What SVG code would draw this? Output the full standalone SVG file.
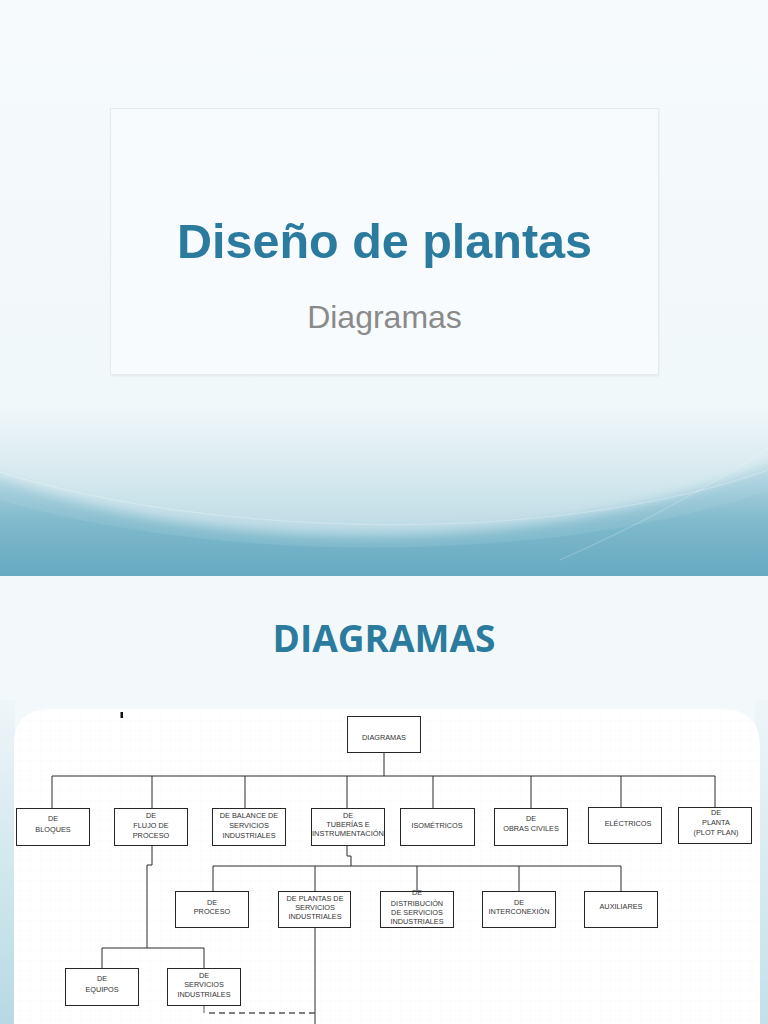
<svg xmlns="http://www.w3.org/2000/svg" width="768" height="1024" viewBox="0 0 768 1024">
<defs>
<linearGradient id="sky" x1="0" y1="0" x2="0" y2="1">
<stop offset="0" stop-color="#f6fafc"/>
<stop offset="0.7" stop-color="#f1f8fa"/>
<stop offset="0.82" stop-color="#d8eaf0"/>
<stop offset="0.92" stop-color="#bddbe5"/>
<stop offset="1" stop-color="#a5cedb"/>
</linearGradient>
<linearGradient id="wave1" x1="0" y1="0" x2="0" y2="1">
<stop offset="0" stop-color="#8cc1d2" stop-opacity="0.3"/>
<stop offset="0.45" stop-color="#7db8cb" stop-opacity="0.8"/>
<stop offset="1" stop-color="#6aadc3"/>
</linearGradient>
<linearGradient id="wave2" x1="0" y1="0" x2="0" y2="1">
<stop offset="0" stop-color="#6aaec4" stop-opacity="0.05"/>
<stop offset="1" stop-color="#5fa6be" stop-opacity="0.6"/>
</linearGradient>
<linearGradient id="leftstrip" x1="0" y1="0" x2="0" y2="1">
<stop offset="0" stop-color="#eef6f9"/>
<stop offset="1" stop-color="#b7d9e4"/>
</linearGradient>
<linearGradient id="rightstrip" x1="0" y1="0" x2="0" y2="1">
<stop offset="0" stop-color="#eef6f9"/>
<stop offset="1" stop-color="#c4e0ea"/>
</linearGradient>
<pattern id="grid" width="10" height="10" patternUnits="userSpaceOnUse">
<path d="M10 0H0V10" fill="none" stroke="#e4e8eb" stroke-width="0.6"/>
</pattern>
<filter id="shadow" x="-5%" y="-5%" width="110%" height="110%">
<feGaussianBlur stdDeviation="1.2"/>
</filter>
<filter id="soft" x="-5%" y="-20%" width="110%" height="140%">
<feGaussianBlur stdDeviation="6"/>
</filter>
</defs>
<style>
.box{fill:#ffffff;stroke:#262626;stroke-width:1}
.lbl{font-family:"Liberation Sans",Arial,sans-serif;font-size:7.3px;fill:#333333;text-anchor:middle}
.ln{fill:none;stroke:#2a2a2a;stroke-width:1}
.dash{fill:none;stroke:#555555;stroke-width:1.3;stroke-dasharray:6,4}
</style>

<!-- Slide 1 background -->
<rect x="0" y="0" width="768" height="576" fill="url(#sky)"/>
<path d="M-20,470 C200,560 560,560 790,455 L790,600 L-20,600 Z" fill="url(#wave1)" filter="url(#soft)"/>
<path d="M0,500 C220,565 560,565 768,490 L768,576 L0,576 Z" fill="url(#wave2)"/>
<path d="M0,472 C220,540 560,545 768,470" fill="none" stroke="#ffffff" stroke-opacity="0.25" stroke-width="1.2"/>
<path d="M560,560 C650,520 720,480 768,448" fill="none" stroke="#ffffff" stroke-opacity="0.2" stroke-width="1.2"/>
<rect x="0" y="576" width="768" height="30" fill="#f3f9fb"/>

<!-- Title card -->
<g id="title-card">
<rect x="111" y="110" width="548" height="266" fill="#cfd9de" opacity="0.5" filter="url(#shadow)"/>
<rect x="110.5" y="108.5" width="548" height="266" fill="#f8fbfd" stroke="#e4eaed" stroke-width="1"/>
<text x="384.5" y="258" font-family="'Liberation Sans',Arial,sans-serif" font-size="48.5" font-weight="bold" fill="#2b7b9e" text-anchor="middle">Diseño de plantas</text>
<text x="384.5" y="328" font-family="'Liberation Sans',Arial,sans-serif" font-size="32" fill="#8a8a8a" text-anchor="middle">Diagramas</text>
</g>

<!-- Slide 2 background -->
<rect x="0" y="576" width="768" height="448" fill="#f3f9fb"/>
<text x="384" y="652" font-family="'Open Sans',sans-serif" font-size="37" font-weight="bold" fill="#2b7b9e" text-anchor="middle" textLength="223" lengthAdjust="spacingAndGlyphs">DIAGRAMAS</text>
<rect x="0" y="700" width="15" height="324" fill="url(#leftstrip)"/>
<rect x="755" y="700" width="13" height="324" fill="url(#rightstrip)"/>
<path d="M14,1030 V745 Q14,709 50,709 H722 Q760,709 760,747 V1030 Z" fill="#ffffff"/>
<path d="M14,1030 V745 Q14,709 50,709 H722 Q760,709 760,747 V1030 Z" fill="url(#grid)" opacity="0.4"/>
<rect x="120.5" y="712" width="2.5" height="6" fill="#111111"/>

<!-- Connectors -->
<g id="connectors">
<path class="ln" d="M384,753 V776"/>
<path class="ln" d="M52,808 V776 H715 V807"/>
<path class="ln" d="M152,776 V808"/>
<path class="ln" d="M245,776 V808"/>
<path class="ln" d="M347,776 V808"/>
<path class="ln" d="M433,776 V808"/>
<path class="ln" d="M531,776 V808"/>
<path class="ln" d="M621,776 V807"/>
<path class="ln" d="M347,846 V856 H351 V866"/>
<path class="ln" d="M213,891 V866 H621 V891"/>
<path class="ln" d="M315,866 V891"/>
<path class="ln" d="M417,866 V891"/>
<path class="ln" d="M519,866 V891"/>
<path class="ln" d="M315,927 V1024"/>
<path class="ln" d="M152,846 V865 H147 V948"/>
<path class="ln" d="M102,968 V948 H204 V968"/>
<path d="M204,1006 V1013" fill="none" stroke="#555555" stroke-width="1"/>
<path class="dash" d="M209,1013 H315"/>
</g>

<!-- Nodes -->
<g id="n-diagramas">
<rect class="box" x="347.5" y="716.5" width="73" height="36"/>
<text class="lbl" x="384" y="740">DIAGRAMAS</text>
</g>
<g id="n-bloques">
<rect class="box" x="16.5" y="808.5" width="73" height="37"/>
<text class="lbl" x="53" y="821">DE</text>
<text class="lbl" x="53" y="831.5">BLOQUES</text>
</g>
<g id="n-flujo">
<rect class="box" x="114.5" y="808.5" width="73" height="37"/>
<text class="lbl" x="151" y="818">DE</text>
<text class="lbl" x="151" y="827.5">FLUJO DE</text>
<text class="lbl" x="151" y="838">PROCESO</text>
</g>
<g id="n-balance">
<rect class="box" x="212.5" y="808.5" width="73" height="37"/>
<text class="lbl" x="249" y="818">DE BALANCE DE</text>
<text class="lbl" x="249" y="827.5">SERVICIOS</text>
<text class="lbl" x="249" y="838">INDUSTRIALES</text>
</g>
<g id="n-tuberias">
<rect class="box" x="311.5" y="808.5" width="73" height="37"/>
<text class="lbl" x="348" y="818">DE</text>
<text class="lbl" x="348" y="827">TUBERÍAS E</text>
<text class="lbl" x="348" y="836" textLength="72" lengthAdjust="spacingAndGlyphs">INSTRUMENTACIÓN</text>
</g>
<g id="n-isometricos">
<rect class="box" x="400.5" y="808.5" width="74" height="37"/>
<text class="lbl" x="437" y="828">ISOMÉTRICOS</text>
</g>
<g id="n-obras">
<rect class="box" x="494.5" y="808.5" width="73" height="37"/>
<text class="lbl" x="531" y="821">DE</text>
<text class="lbl" x="531" y="831">OBRAS CIVILES</text>
</g>
<g id="n-electricos">
<rect class="box" x="588.5" y="807.5" width="73" height="36"/>
<text class="lbl" x="628" y="825.5">ELÉCTRICOS</text>
</g>
<g id="n-planta">
<rect class="box" x="678.5" y="807.5" width="73" height="36"/>
<text class="lbl" x="716" y="815">DE</text>
<text class="lbl" x="716" y="825">PLANTA</text>
<text class="lbl" x="716" y="835">(PLOT PLAN)</text>
</g>
<g id="n-proceso">
<rect class="box" x="175.5" y="891.5" width="73" height="36"/>
<text class="lbl" x="212" y="905">DE</text>
<text class="lbl" x="212" y="914">PROCESO</text>
</g>
<g id="n-plantas-serv">
<rect class="box" x="278.5" y="891.5" width="72" height="36"/>
<text class="lbl" x="315" y="901">DE PLANTAS DE</text>
<text class="lbl" x="315" y="910">SERVICIOS</text>
<text class="lbl" x="315" y="919">INDUSTRIALES</text>
</g>
<g id="n-distribucion">
<rect class="box" x="380.5" y="891.5" width="73" height="36"/>
<text class="lbl" x="417" y="895">DE</text>
<text class="lbl" x="417" y="906">DISTRIBUCIÓN</text>
<text class="lbl" x="417" y="915">DE SERVICIOS</text>
<text class="lbl" x="417" y="924">INDUSTRIALES</text>
</g>
<g id="n-interconexion">
<rect class="box" x="482.5" y="891.5" width="73" height="36"/>
<text class="lbl" x="519" y="904.5">DE</text>
<text class="lbl" x="519" y="914">INTERCONEXIÓN</text>
</g>
<g id="n-auxiliares">
<rect class="box" x="584.5" y="891.5" width="73" height="36"/>
<text class="lbl" x="621" y="909">AUXILIARES</text>
</g>
<g id="n-equipos">
<rect class="box" x="65.5" y="968.5" width="73" height="37"/>
<text class="lbl" x="102" y="981">DE</text>
<text class="lbl" x="102" y="992">EQUIPOS</text>
</g>
<g id="n-servicios">
<rect class="box" x="167.5" y="968.5" width="73" height="37"/>
<text class="lbl" x="204" y="977.5">DE</text>
<text class="lbl" x="204" y="987">SERVICIOS</text>
<text class="lbl" x="204" y="996.5">INDUSTRIALES</text>
</g>
</svg>
